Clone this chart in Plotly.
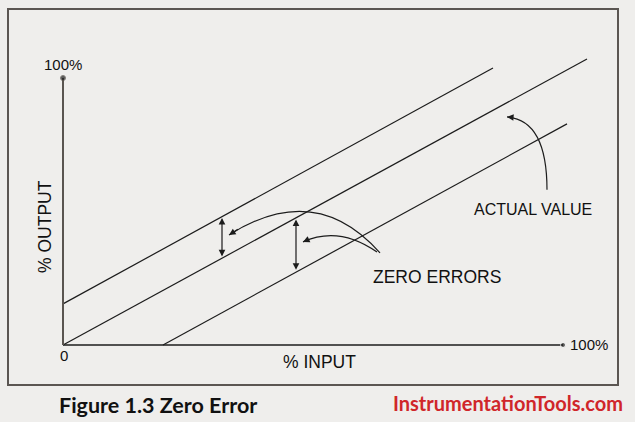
import plotly.graph_objects as go

# Kennlinien (Eingang %, Ausgang %)
actual_x = [0, 104.8]
actual_y = [0, 107.1]
upper_x = [0, 86]
upper_y = [15.4, 103.7]
lower_x = [20, 100.8]
lower_y = [0, 82.8]

# Achsen
axis_x = [0, 100]
axis_y = [0, 100]

# Doppelpfeile fuer den Nullpunktfehler: x, oben, unten
err_x = [31.8, 46.6]
err_top = [47.6, 47.0]
err_bot = [32.6, 27.6]

# Gebogene Pfeile: Start, Kontrollpunkt, Ende (Datenkoordinaten)
curves = [
    [(63.4, 34.5), (50.5, 61.8), (33.2, 41.2)],
    [(62.8, 34.8), (55.2, 44.8), (48.0, 38.6)],
    [(96.8, 58.1), (96.8, 84.3), (88.8, 85.4)],
]

labels = ["100%", "0", "% INPUT", "100%", "% OUTPUT", "ACTUAL VALUE", "ZERO ERRORS"]
label_x = [0, 0.1, 51.2, 100.9, -3.6, 94.0, 74.8]
label_y = [104.9, -4.1, -6.4, 0, 44.2, 50.6, 25.5]
label_size = [15, 15, 17.5, 15, 17.5, 16, 17.5]

LINE = "#1c1c1c"
BG = "#efeeec"
FONT = "Liberation Sans, Arial, sans-serif"

fig = go.Figure()

for xs, ys in [(actual_x, actual_y), (upper_x, upper_y), (lower_x, lower_y)]:
    fig.add_trace(go.Scatter(x=xs, y=ys, mode="lines",
                             line=dict(color=LINE, width=1.2), hoverinfo="skip"))

# Achsenlinien mit Endpunkten
fig.add_trace(go.Scatter(x=axis_x, y=[0, 0], mode="lines+markers",
                         line=dict(color=LINE, width=1.5),
                         marker=dict(size=[0, 5], color=LINE), hoverinfo="skip"))
fig.add_trace(go.Scatter(x=[0, 0], y=axis_y, mode="lines+markers",
                         line=dict(color="#5a5550", width=2),
                         marker=dict(size=[0, 5], color=LINE), hoverinfo="skip"))

shapes = [dict(type="rect", xref="paper", yref="paper",
               x0=8 / 635, x1=618 / 635, y0=1 - 385 / 422, y1=1 - 9 / 422,
               line=dict(color="#5b5652", width=2), fillcolor="rgba(0,0,0,0)")]

annotations = []

for i in range(len(err_x)):
    annotations.append(dict(x=err_x[i], y=err_top[i], ax=err_x[i], ay=err_bot[i],
                            xref="x", yref="y", axref="x", ayref="y", text="",
                            showarrow=True, arrowside="end+start", arrowhead=2,
                            arrowsize=1.1, arrowwidth=1.2, arrowcolor=LINE,
                            standoff=0, startstandoff=0))

for p0, c, p2 in curves:
    shapes.append(dict(type="path", xref="x", yref="y",
                       path=f"M {p0[0]},{p0[1]} Q {c[0]},{c[1]} {p2[0]},{p2[1]}",
                       line=dict(color=LINE, width=1.2)))
    # Pfeilspitze in Tangentenrichtung
    tx = p2[0] + (c[0] - p2[0]) * 0.12
    ty = p2[1] + (c[1] - p2[1]) * 0.12
    annotations.append(dict(x=p2[0], y=p2[1], ax=tx, ay=ty,
                            xref="x", yref="y", axref="x", ayref="y", text="",
                            showarrow=True, arrowhead=2, arrowsize=1.1,
                            arrowwidth=1.2, arrowcolor=LINE, standoff=0))

for i, t in enumerate(labels):
    a = dict(x=label_x[i], y=label_y[i], xref="x", yref="y", text=t,
             showarrow=False, xanchor="center",
             font=dict(family=FONT, size=label_size[i], color="#111111"))
    if i == 3:
        a["xanchor"] = "left"
    if t == "% OUTPUT":
        a["textangle"] = -90
    annotations.append(a)

annotations.append(dict(x=157.5 / 635, y=1 - 405 / 422, xref="paper", yref="paper",
                        xanchor="center", yanchor="middle",
                        text="<b>Figure 1.3 Zero Error</b>", showarrow=False,
                        font=dict(family="Lato, Open Sans, sans-serif", size=21.5, color="#111111")))
annotations.append(dict(x=508 / 635, y=1 - 403 / 422, xref="paper", yref="paper",
                        xanchor="center", yanchor="middle",
                        text="<b>InstrumentationTools.com</b>", showarrow=False,
                        font=dict(family="Lato, Open Sans, sans-serif", size=20, color="#d0262a")))

fig.update_layout(
    width=635, height=422,
    margin=dict(l=0, r=0, t=0, b=0),
    paper_bgcolor=BG, plot_bgcolor=BG,
    showlegend=False,
    shapes=shapes, annotations=annotations,
)
fig.update_xaxes(range=[-12.6, 114.4], visible=False, fixedrange=True)
fig.update_yaxes(range=[-28.84, 129.2], visible=False, fixedrange=True)

# Seitenrand entfernen, damit die Grafik bei (0,0) beginnt
fig.write_html("out.html", config={"displayModeBar": False},
               post_script=f"document.body.style.margin='0';document.body.style.background='{BG}';")
